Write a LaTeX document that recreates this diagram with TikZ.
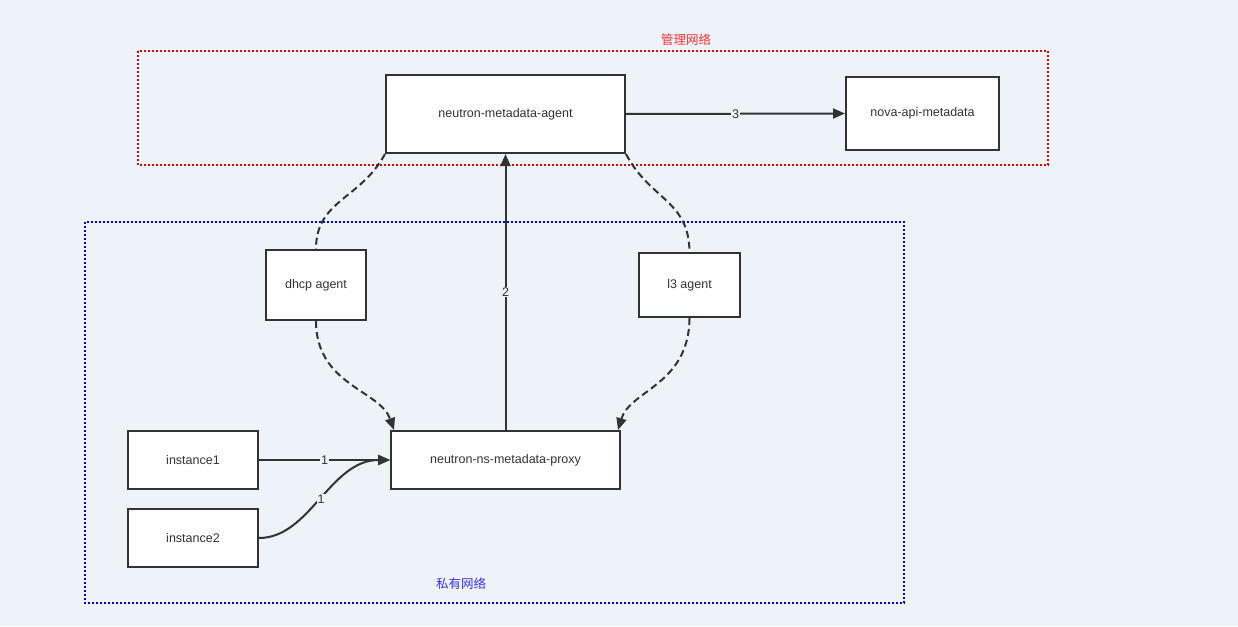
\documentclass[tikz,border=0pt]{standalone}
\usepackage{fontspec}
\setmainfont{Liberation Sans}
\newfontfamily\cjk{Noto Sans CJK SC}
\usetikzlibrary{arrows.meta}
\definecolor{bg}{HTML}{EEF2F9}
\definecolor{ln}{HTML}{333333}
\begin{document}
\begin{tikzpicture}[x=1pt,y=-1pt,
  box/.style={draw=ln,line width=2pt,fill=white,font=\fontsize{12.5}{14}\selectfont,text=ln},
  arr/.style={draw=ln,line width=2pt,-{Triangle[length=12pt,width=10pt]}},
  dsh/.style={draw=ln,line width=2pt,dash pattern=on 7pt off 4pt},
  lab/.style={fill=bg,inner sep=1pt,font=\fontsize{12.5}{14}\selectfont,text=ln}]
\fill[bg] (0,0) rectangle (1238,626);
\useasboundingbox (0,0) rectangle (1238,626);
\draw[red!85!black,line width=2pt,dash pattern=on 2pt off 2pt] (138,51) rectangle (1048,165);
\node[text=red!80,font=\cjk\fontsize{12.5}{14}\selectfont] (lg) at (686,40) {管理网络};
\draw[blue!80!black,line width=2pt,dash pattern=on 2pt off 2pt] (85,222) rectangle (904,603);
\node[text=blue!80,font=\cjk\fontsize{12.5}{14}\selectfont] (lp) at (461,584) {私有网络};
\node[box,minimum width=239pt,minimum height=78pt] (nma) at (505.5,114) {neutron-metadata-agent};
\node[box,minimum width=153pt,minimum height=73pt] (nova) at (922.5,113.5) {nova-api-metadata};
\node[box,minimum width=100pt,minimum height=70pt] (dhcp) at (316,285) {dhcp agent};
\node[box,minimum width=101pt,minimum height=64pt] (l3) at (689.5,285) {l3 agent};
\node[box,minimum width=229pt,minimum height=58pt] (proxy) at (505.5,460) {neutron-ns-metadata-proxy};
\node[box,minimum width=130pt,minimum height=58pt] (i1) at (193,460) {instance1};
\node[box,minimum width=130pt,minimum height=58pt] (i2) at (193,538) {instance2};
\draw[arr] (nma.east) -- node[lab]{3} (nova.west);
\draw[arr] (proxy.north) -- node[lab]{2} (nma.south);
\draw[dsh] (nma.south west) .. controls (360,200) and (316,200) .. (dhcp.north);
\draw[dsh] (nma.south east) .. controls (650,200) and (689,200) .. (l3.north);
\draw[dsh,-{Triangle[length=12pt,width=10pt]}] (dhcp.south) .. controls (316,385) and (380,390) .. ([xshift=4pt]proxy.north west);
\draw[dsh,-{Triangle[length=12pt,width=10pt]}] (l3.south) .. controls (689,385) and (630,390) .. ([xshift=-3pt]proxy.north east);
\draw[arr] (i1.east) -- node[lab,pos=0.5]{1} (proxy.west);
\draw[arr] (i2.east) .. controls (310,538) and (330,460) .. node[lab,pos=0.5]{1} (proxy.west);
\end{tikzpicture}
\end{document}
